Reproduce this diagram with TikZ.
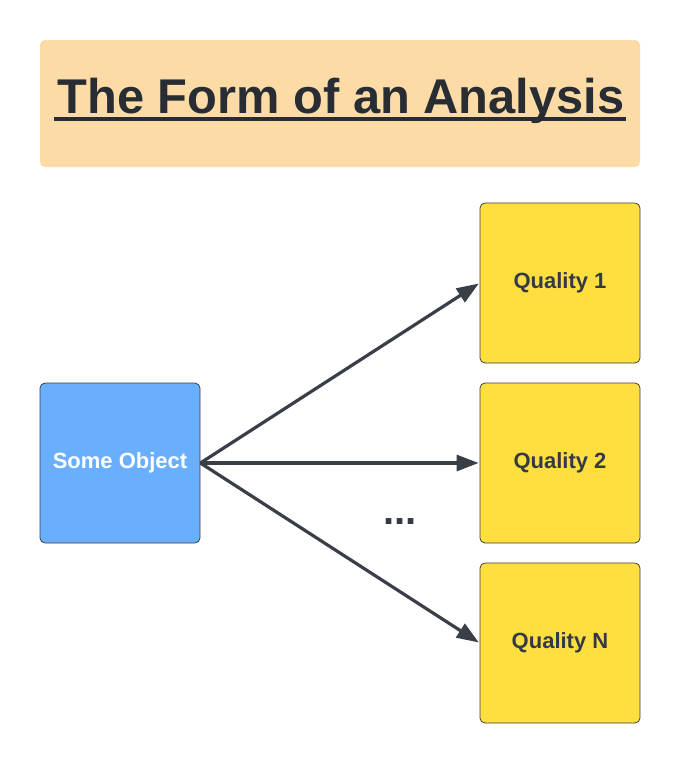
\documentclass[tikz,border=0pt]{standalone}
\usepackage{fontspec}
\setmainfont{Liberation Sans}
\usetikzlibrary{arrows.meta,calc}
\definecolor{titlebg}{HTML}{FDDBA6}
\definecolor{titletxt}{HTML}{282C33}
\definecolor{objblue}{HTML}{6AAFFD}
\definecolor{qualyel}{HTML}{FFDF40}
\definecolor{edgecol}{HTML}{3A3F47}
\definecolor{txtdark}{HTML}{333A45}
\tikzset{
  box/.style={draw=edgecol, line width=0.8pt, rounded corners=5pt, minimum width=160pt, minimum height=160pt, inner sep=0pt, font=\fontsize{22}{26}\selectfont\bfseries},
  objbox/.style={box, fill=objblue, text=white},
  qualbox/.style={box, fill=qualyel, text=txtdark},
  conn/.style={draw=edgecol, line width=3.2pt, -{Triangle[length=22pt,width=16pt]}, shorten >=1pt}
}
\begin{document}
\begin{tikzpicture}[x=1pt,y=-1pt]
\useasboundingbox (0,0) rectangle (680,764);
\fill[white] (0,0) rectangle (680,764);
\node[fill=titlebg, rounded corners=5pt, minimum width=600pt, minimum height=127pt, inner sep=0pt] (title) at (340,103.5) {};
\node[text=titletxt, font=\fontsize{48.8}{52}\selectfont\bfseries, inner sep=0pt, anchor=base] (titletext) at (341,113.5) {The Form of an Analysis};
\coordinate (ul1) at ($(titletext.base west)+(-3,5.5)$);
\coordinate (ul2) at ($(titletext.base east)+(1,5.5)$);
\draw[titletxt, line width=4.5pt] (ul1) -- (ul2);
\node[objbox] (obj) at (120,463) {Some Object};
\node[qualbox] (q1) at (560,283) {Quality 1};
\node[qualbox] (q2) at (560,463) {Quality 2};
\node[qualbox] (qn) at (560,643) {Quality N};
\draw[conn] (obj.east) -- (q1.west);
\draw[conn] (obj.east) -- (q2.west);
\draw[conn] (obj.east) -- (qn.west);
\node[text=txtdark, font=\fontsize{40}{44}\selectfont\bfseries, inner sep=0pt, anchor=base] (dots) at (400,524) {...};
\end{tikzpicture}
\end{document}
